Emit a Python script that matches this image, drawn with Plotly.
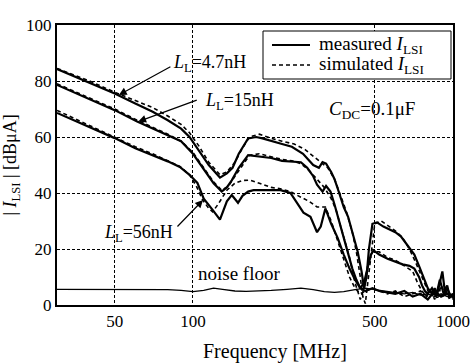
import math
import plotly.graph_objects as go

# ---------------- data (frequency in MHz, level in dBuA) ----------------
f_m47 = [30, 40, 50, 60, 70, 80, 90, 97, 105, 115, 127, 135, 142, 150, 163, 175, 185, 200, 220, 240,
         265, 290, 305, 315, 325, 340, 350, 365, 380, 395, 410, 430, 445, 455, 465, 475, 490, 510, 540,
         570, 600, 630, 670, 710, 740, 770, 800, 830, 850, 870, 890, 910, 930, 950, 970, 1000]
v_m47 = [84.3, 79.5, 75.5, 72, 69, 66, 63, 60, 55.5, 50, 45.5, 47, 49, 54, 59.5, 60, 59.5, 58.5, 57.5, 56.5,
         54, 50, 49, 51, 50.5, 47.5, 45, 40, 35, 31.5, 26, 19, 12, 6, 10, 20, 29, 29.5, 28,
         27, 26, 24.5, 21, 18, 14, 10, 6, 4, 6, 4, 8, 12, 5, 7, 3, 4]

f_s47 = [30, 40, 50, 60, 70, 80, 90, 97, 105, 115, 127, 135, 145, 155, 165, 180, 200, 220, 245, 270,
         290, 310, 330, 350, 370, 390, 410, 425, 440, 450, 460, 470, 485, 500, 530, 560, 600, 640, 680,
         720, 750, 780, 810, 840, 870, 900, 930, 960, 1000]
v_s47 = [84.5, 80, 76, 73, 70.5, 67.5, 64.5, 61.5, 57, 51, 46.5, 47.5, 51, 56, 60, 61, 59.5, 58.5, 57.5, 55.5,
         53, 51, 49, 45, 39, 33, 26, 19, 10, 3, 0.5, 8, 20, 29, 30, 28.5, 26.5, 24, 20,
         15, 11, 7, 4, 5, 2, 7, 4, 5, 2]

f_m15 = [30, 40, 50, 61, 70, 80, 90, 100, 110, 120, 129, 135, 141, 150, 163, 180, 200, 220, 240, 260,
         275, 290, 300, 315, 325, 338, 350, 365, 380, 395, 410, 425, 440, 455, 470, 483, 495, 520, 560,
         600, 640, 680, 710, 740, 760, 780, 800, 830, 860, 890, 920, 950, 980, 1000]
v_m15 = [78.6, 73.5, 69.6, 65.5, 63, 60.5, 58.5, 54, 48.5, 43.5, 40.5, 42, 44.5, 49, 53.5, 53, 52.5, 51.5, 51.2, 51,
         49, 46, 43, 40.5, 42.5, 40.5, 36, 30, 24, 18, 13, 9, 6, 8, 14, 18, 19.5, 18, 16.5,
         15.5, 14.5, 14, 13, 10, 7, 5, 4, 6, 3, 9, 4, 6, 3, 4]

f_s15 = [30, 40, 50, 61, 70, 80, 90, 100, 110, 120, 129, 137, 145, 155, 165, 180, 200, 220, 240, 260,
         280, 300, 320, 340, 355, 370, 385, 400, 420, 440, 455, 470, 490, 520, 560, 600, 650, 700, 730,
         760, 790, 820, 850, 880, 910, 940, 970, 1000]
v_s15 = [79, 74, 70, 66, 63.5, 61, 58.5, 54.5, 49, 44, 41, 42.5, 46, 50, 53.5, 54, 53, 52, 51.5, 50.5,
         48, 45, 42, 38, 34, 28, 22, 17, 8, 2, 6, 14, 19, 19, 17, 16, 14, 12, 8,
         5, 3, 5, 2, 6, 3, 5, 2, 3]

f_m56 = [30, 40, 50, 60, 70, 80, 89, 97, 104, 110, 119, 127, 135, 141, 149, 155, 163, 171, 185, 200,
         217, 237, 252, 266, 283, 300, 310, 323, 340, 360, 380, 400, 420, 440, 460, 490, 520, 560, 600,
         650, 700, 750, 800, 850, 900, 950, 1000]
v_m56 = [68.6, 63.5, 59.6, 56, 53.5, 51.3, 49.3, 46.5, 43.6, 38, 34, 30.5, 37, 39.3, 36.5, 39, 40.5, 41, 41, 41,
         41, 40, 36.4, 33, 31.5, 26, 28, 34.5, 29, 24, 18, 13, 9, 6, 5, 6, 5, 4.5, 4,
         5, 3, 4, 2, 5, 3, 4, 3]

f_s56 = [30, 40, 50, 60, 70, 80, 89, 97, 103, 109, 115, 119, 125, 135, 145, 155, 166, 180, 200, 217,
         237, 260, 280, 300, 323, 340, 360, 380, 400, 420, 440, 460, 490, 520, 560, 600, 650, 700, 750,
         800, 850, 900, 950, 1000]
v_s56 = [69.5, 64, 60, 56.5, 54, 51.5, 49.5, 46.5, 42.5, 37.5, 34.5, 33.3, 36, 41, 43.5, 44.5, 44.6, 43.5, 42, 41.5,
         40.5, 38.5, 37, 35, 35, 30, 23, 16, 10, 6, 4, 5, 6, 5, 4, 5, 3, 4, 5,
         3, 4, 3, 4, 3]

f_noise = [30, 40, 50, 60, 70, 80, 90, 100, 110, 120, 130, 145, 160, 180, 200, 230, 260, 290, 320, 350,
           380, 420, 460, 500, 550, 600, 650, 700, 750, 800, 850, 900, 950, 1000]
v_noise = [5.6, 5.6, 5.7, 5.6, 5.6, 5.5, 5.2, 4.8, 5.2, 6, 5.6, 5, 4.9, 5, 5.2, 5.6, 6, 5.5, 4.8, 4.5,
           4.8, 5.5, 6, 5.5, 5, 4.5, 4, 4.5, 3.5, 4, 3, 4, 3, 3.5]

x_ticks = [50, 100, 500, 1000]
y_ticks = [0, 20, 40, 60, 80, 100]
legend_labels = ["measured <i>I</i><sub>LSI</sub>", "simulated <i>I</i><sub>LSI</sub>"]

FONT = "Liberation Serif"
L, R, T, B = 57, 21, 25, 59
W, H = 474, 364
PW, PH = W - L - R, H - T - B


def px2paper(px, py):
    return (px - L) / PW, (H - B - py) / PH


fig = go.Figure()

solid = dict(color="black", width=2.2)
dashed = dict(color="black", width=1.6, dash="4px,3px")

for fx, vy in [(f_m47, v_m47), (f_m15, v_m15), (f_m56, v_m56)]:
    fig.add_trace(go.Scatter(x=fx, y=vy, mode="lines", line=solid, showlegend=False))
for fx, vy in [(f_s47, v_s47), (f_s15, v_s15), (f_s56, v_s56)]:
    fig.add_trace(go.Scatter(x=fx, y=vy, mode="lines", line=dashed, showlegend=False))
fig.add_trace(go.Scatter(x=f_noise, y=v_noise, mode="lines",
                         line=dict(color="black", width=1.3), showlegend=False))

fig.update_layout(
    width=W, height=H,
    margin=dict(l=L, r=R, t=T, b=B, autoexpand=False),
    paper_bgcolor="white", plot_bgcolor="white",
    font=dict(family=FONT, size=18, color="black"),
    showlegend=False,
)

fig.update_xaxes(
    type="log", range=[1.4771, 3.0], automargin=False,
    tickvals=x_ticks, ticktext=[str(v) for v in x_ticks],
    showline=True, linecolor="black", linewidth=2, mirror=True,
    showgrid=True, gridcolor="black", gridwidth=1, griddash="3px,2px",
    ticks="", tickfont=dict(family=FONT, size=17),
    zeroline=False,
)
fig.update_yaxes(
    range=[0, 100], tickvals=y_ticks, automargin=False,
    showline=True, linecolor="black", linewidth=2, mirror=True,
    showgrid=True, gridcolor="black", gridwidth=1, griddash="3px,2px",
    ticks="", tickfont=dict(family=FONT, size=17),
    title=dict(text="| <i>I</i><sub>LSI</sub> | [dBμA]", font=dict(family=FONT, size=18), standoff=6),
    zeroline=False,
)

# x-axis title (placed as in the reference, slightly right of centre)
xt, yt = px2paper(275, 351)
fig.add_annotation(text="Frequency [MHz]", xref="paper", yref="paper", x=xt, y=yt,
                   xanchor="center", yanchor="middle", showarrow=False,
                   font=dict(family=FONT, size=20, color="black"))

ann_font = dict(family=FONT, size=19, color="black")
texts = [
    ("<i>L</i><sub>L</sub>=4.7nH", 209, 64, 18),
    ("<i>L</i><sub>L</sub>=15nH", 239, 101, 18),
    ("<i>L</i><sub>L</sub>=56nH", 138, 233, 18),
    ("<i>C</i><sub>DC</sub>=0.1μF", 372, 110, 19),
    ("noise floor", 239, 273, 19),
]
for t, px, py, fs in texts:
    xp, yp = px2paper(px, py)
    fig.add_annotation(text=t, xref="paper", yref="paper", x=xp, y=yp,
                       xanchor="center", yanchor="middle", showarrow=False,
                       font=dict(family=FONT, size=fs, color="black"))

# arrows (head at the curve, tail near the label)
arrows = [
    (51.9, 75.0, 53, -29),
    (61.6, 65.5, 60, -22),
    (109.3, 37.5, -27, 28),
]
for fx, vy, ax, ay in arrows:
    fig.add_annotation(x=math.log10(fx), y=vy, xref="x", yref="y", text="",
                       showarrow=True, ax=ax, ay=ay, arrowhead=2, arrowsize=1.3,
                       arrowwidth=1.2, arrowcolor="black")

# legend box (drawn as a key, in paper coordinates)
x0, y0 = px2paper(263, 79)
x1, y1 = px2paper(451, 31)
fig.add_shape(type="rect", xref="paper", yref="paper", x0=x0, y0=y0, x1=x1, y1=y1,
              line=dict(color="black", width=1), fillcolor="white", layer="above")
for i, (lab, sty) in enumerate(zip(legend_labels, [solid, dashed])):
    ry = 45 + 20 * i
    ax0, ay0 = px2paper(272, ry)
    ax1, _ = px2paper(310, ry)
    fig.add_shape(type="line", xref="paper", yref="paper", x0=ax0, y0=ay0, x1=ax1, y1=ay0,
                  line=sty, layer="above")
    tx, ty = px2paper(317, ry)
    fig.add_annotation(text=lab, xref="paper", yref="paper", x=tx, y=ty,
                       xanchor="left", yanchor="middle", showarrow=False, font=ann_font)

fig.write_html("out.html", config={"displayModeBar": False},
               post_script="document.body.style.margin='0';")
